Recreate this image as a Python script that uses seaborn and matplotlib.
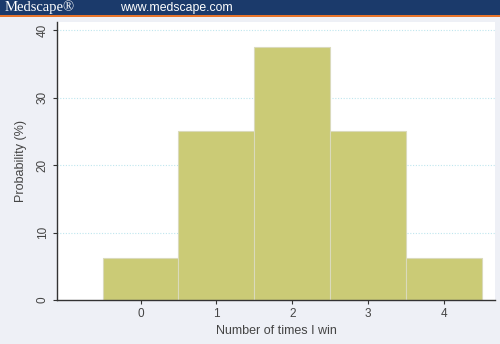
import matplotlib
matplotlib.use("Agg")
import matplotlib.pyplot as plt
import seaborn as sns
from matplotlib.patches import Rectangle

wins = [0, 1, 2, 3, 4]
probability = [6.25, 25.0, 37.5, 25.0, 6.25]
y_ticks = [0, 10, 20, 30, 40]

sns.set_theme(style="white")
plt.rcParams['font.family'] = ['Liberation Sans', 'DejaVu Sans']

fig = plt.figure(figsize=(5.0, 3.44), dpi=100)
fig.patch.set_facecolor("#eef0f6")

# header band
fig.patches.append(Rectangle((0, 1 - 15/344), 1, 15/344, transform=fig.transFigure,
                             facecolor="#1b3a6b", edgecolor="none", zorder=0))
fig.patches.append(Rectangle((0, 1 - 17/344), 1, 2/344, transform=fig.transFigure,
                             facecolor="#e8742a", edgecolor="none", zorder=0))
fig.text(0.010, 1 - 7.5/344, "Medscape®", color="white", fontsize=10.5,
         family="Liberation Serif", va="center", ha="left")
fig.text(0.24, 1 - 7.5/344, "www.medscape.com", color="white", fontsize=8.8,
         va="center", ha="left")

ax = fig.add_axes([57/500, 1 - 300/344, (495 - 57)/500, (300 - 22)/344])
ax.set_facecolor("white")

sns.barplot(x=wins, y=probability, width=1.0, color="#cbcb76", saturation=1,
            edgecolor="#dadabb", linewidth=0.8, ax=ax, zorder=2)

ax.set_xlim(-1.1, 4.67)
ax.set_ylim(0, 41.2)
ax.set_yticks(y_ticks)
ax.set_yticklabels([str(t) for t in y_ticks], rotation=90, va="center")
ax.set_xticks(range(len(wins)))
ax.set_xticklabels([str(w) for w in wins])
for t in y_ticks[1:]:
    ax.axhline(t, color="#bfe6ee", lw=0.8, ls=(0, (1, 1.5)), zorder=1)

for s in ["top", "right"]:
    ax.spines[s].set_visible(False)
for s in ["left", "bottom"]:
    ax.spines[s].set_color("#333333")
    ax.spines[s].set_linewidth(1.0)

ax.tick_params(axis="both", which="major", direction="out", length=3, width=0.8,
               color="#333333", labelsize=8.5, labelcolor="#444444", pad=3,
               left=True, bottom=True)
ax.set_xlabel("Number of times I win", fontsize=9, color="#444444", labelpad=3)
ax.set_ylabel("Probability (%)", fontsize=9, color="#444444", labelpad=7)

fig.savefig("out.png", dpi=100, facecolor=fig.get_facecolor())
